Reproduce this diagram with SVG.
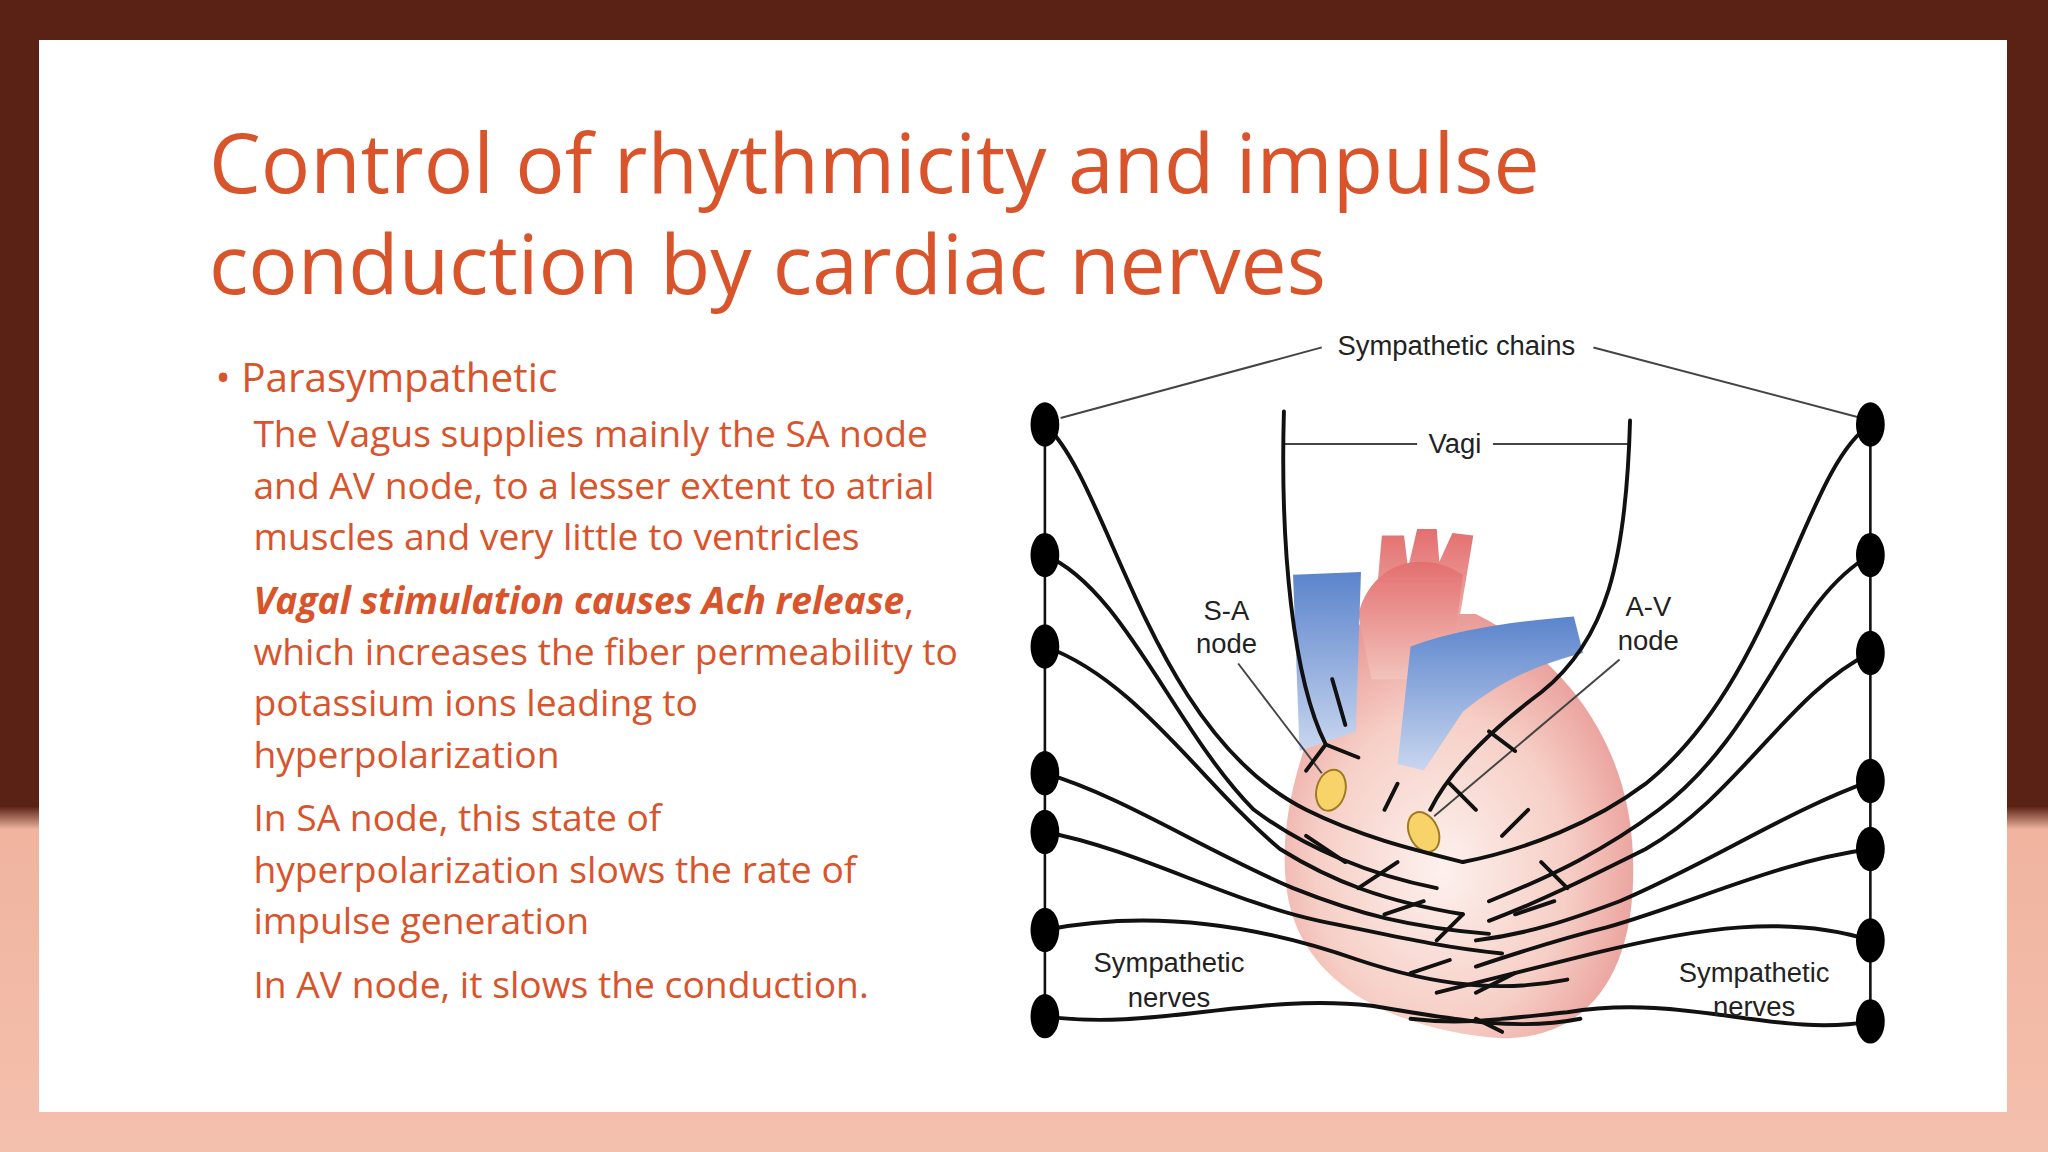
<svg xmlns="http://www.w3.org/2000/svg" width="2048" height="1152" viewBox="0 0 2048 1152">
<defs>
<linearGradient id="bg" x1="0" y1="0" x2="0" y2="1">
<stop offset="0" stop-color="#5a2214"/><stop offset="0.70" stop-color="#5a2214"/><stop offset="0.72" stop-color="#f0b49f"/><stop offset="1" stop-color="#f4c0ae"/></linearGradient>
<radialGradient id="hg" cx="0.45" cy="0.6" r="0.6"><stop offset="0" stop-color="#fdf1ee"/><stop offset="0.6" stop-color="#f6cfc6"/><stop offset="1" stop-color="#e99b97"/></radialGradient>
<linearGradient id="bl" x1="0" y1="0" x2="0" y2="1"><stop offset="0" stop-color="#5b84cc"/><stop offset="1" stop-color="#c9d6ef"/></linearGradient>
<linearGradient id="ao" x1="0" y1="0" x2="0" y2="1"><stop offset="0" stop-color="#e36f6f"/><stop offset="1" stop-color="#f3c3bc"/></linearGradient>
<style>
.t{font-family:"Open Sans","Liberation Sans",sans-serif;fill:#d9532b}
.l{font-family:"Liberation Sans",Arial,sans-serif;font-size:21px;fill:#222;text-anchor:middle}
.n{fill:none;stroke:#111;stroke-width:3;stroke-linecap:round}
.f{fill:none;stroke:#111;stroke-width:2}
.th{fill:none;stroke:#444;stroke-width:1.5}
</style>
</defs>
<rect width="2048" height="1152" fill="url(#bg)"/>
<rect x="39" y="40" width="1968" height="1072" fill="#fff"/>
<g transform="scale(1.30612)">
<g id="title" class="t" font-size="63">
<text x="160" y="148">Control of rhythmicity and impulse</text>
<text x="160" y="225">conduction by cardiac nerves</text>
</g>
<g id="body" class="t" font-size="28.5">
<text x="165" y="300" font-size="31">• Parasympathetic</text>
<text x="194" y="342">The Vagus supplies mainly the SA node</text>
<text x="194" y="382">and AV node, to a lesser extent to atrial</text>
<text x="194" y="421">muscles and very little to ventricles</text>
<text x="194" y="470"><tspan font-weight="bold" font-style="italic">Vagal stimulation causes Ach release</tspan>,</text>
<text x="194" y="509">which increases the fiber permeability to</text>
<text x="194" y="548">potassium ions leading to</text>
<text x="194" y="588">hyperpolarization</text>
<text x="194" y="636">In SA node, this state of</text>
<text x="194" y="676">hyperpolarization slows the rate of</text>
<text x="194" y="715">impulse generation</text>
<text x="194" y="764">In AV node, it slows the conduction.</text>
</g>
<g id="heart">
<path d="M1045 470 C1020 520 975 600 985 680 C995 760 1080 790 1150 795 C1220 795 1255 740 1250 650 C1245 560 1190 500 1130 470 Z" fill="url(#hg)"/>
<path d="M1058 410 L1075 410 L1078 435 L1085 405 L1100 405 L1102 430 L1112 408 L1128 410 L1118 470 L1050 500 Z" fill="url(#ao)"/>
<path d="M1040 470 C1050 430 1090 420 1120 440 L1110 520 L1050 520 Z" fill="url(#ao)"/>
<path d="M990 440 L1042 438 L1038 560 L995 575 Z" fill="url(#bl)"/>
<path d="M1080 495 C1120 480 1170 475 1205 472 L1212 500 C1180 508 1150 520 1120 545 L1090 590 L1070 585 Z" fill="url(#bl)"/>
<ellipse cx="1019" cy="605" rx="11" ry="16" fill="#f7d36a" stroke="#a07a20" stroke-width="1.5" transform="rotate(15 1019 605)"/>
<ellipse cx="1090" cy="637" rx="11" ry="16" fill="#f7d36a" stroke="#a07a20" stroke-width="1.5" transform="rotate(-25 1090 637)"/>
</g>
<g id="connectors">
<line class="f" x1="800" y1="325" x2="800" y2="780"/>
<line class="f" x1="1432" y1="325" x2="1432" y2="782"/>
<line class="th" x1="812" y1="320" x2="1012" y2="266"/>
<line class="th" x1="1220" y1="266" x2="1425" y2="320"/>
<line class="th" x1="983" y1="340" x2="1085" y2="340"/>
<line class="th" x1="1143" y1="340" x2="1248" y2="340"/>
<line class="th" x1="948" y1="508" x2="1012" y2="592"/>
<line class="th" x1="1240" y1="505" x2="1098" y2="625"/>
<path class="n" d="M983 315 C980 420 990 520 1015 570 M1248 322 C1245 430 1230 490 1180 530 C1140 560 1110 590 1095 620"/>
<path class="n" d="M1015 570 L1000 590 M1015 570 L1040 580 M1020 520 L1030 555 M1140 560 L1160 575"/>
<path class="n" d="M800 325 C850 370 880 560 1000 620 C1040 640 1080 650 1120 660"/>
<path class="n" d="M800 425 C860 450 900 560 960 620 C1000 650 1050 670 1100 680"/>
<path class="n" d="M800 495 C870 520 920 600 980 650 C1020 675 1060 690 1120 700"/>
<path class="n" d="M800 592 C860 610 920 650 990 680 C1040 700 1080 710 1140 715"/>
<path class="n" d="M800 637 C870 650 940 690 1010 705 C1060 715 1100 725 1150 730"/>
<path class="n" d="M800 712 C860 700 940 700 1040 735 C1100 755 1150 760 1200 750"/>
<path class="n" d="M800 778 C880 790 960 760 1050 770 C1110 780 1160 790 1210 780"/>
<path class="n" d="M1432 325 C1380 360 1360 520 1260 600 C1220 630 1170 650 1120 660"/>
<path class="n" d="M1432 425 C1370 460 1350 560 1270 620 C1230 650 1190 670 1140 690"/>
<path class="n" d="M1432 500 C1370 530 1330 610 1260 650 C1220 670 1180 690 1140 705"/>
<path class="n" d="M1432 598 C1370 620 1310 660 1240 690 C1200 705 1170 715 1130 720"/>
<path class="n" d="M1432 650 C1360 660 1300 690 1230 710 C1190 720 1160 730 1130 740"/>
<path class="n" d="M1432 720 C1370 700 1300 710 1220 730 C1180 740 1140 750 1100 760"/>
<path class="n" d="M1432 782 C1360 795 1290 760 1200 775 C1150 780 1120 785 1080 780"/>
<path class="n" stroke-width="2.5" d="M1000 640 L1030 660 M1040 680 L1070 660 M1060 700 L1090 690 M1100 720 L1120 700 M1080 745 L1110 735 M1130 760 L1160 745 M1160 700 L1190 690 M1180 660 L1200 680 M1150 640 L1170 620 M1110 600 L1130 620 M1060 620 L1070 600 M1130 780 L1150 790"/>
</g>
<g id="ganglia" fill="#000">
<ellipse cx="800" cy="325" rx="11" ry="17"/><ellipse cx="800" cy="425" rx="11" ry="17"/><ellipse cx="800" cy="495" rx="11" ry="17"/><ellipse cx="800" cy="592" rx="11" ry="17"/><ellipse cx="800" cy="637" rx="11" ry="17"/><ellipse cx="800" cy="712" rx="11" ry="17"/><ellipse cx="800" cy="778" rx="11" ry="17"/>
<ellipse cx="1432" cy="325" rx="11" ry="17"/><ellipse cx="1432" cy="425" rx="11" ry="17"/><ellipse cx="1432" cy="500" rx="11" ry="17"/><ellipse cx="1432" cy="598" rx="11" ry="17"/><ellipse cx="1432" cy="650" rx="11" ry="17"/><ellipse cx="1432" cy="720" rx="11" ry="17"/><ellipse cx="1432" cy="782" rx="11" ry="17"/>
</g>
<g id="labels">
<text class="l" x="1115" y="272">Sympathetic chains</text>
<text class="l" x="1114" y="347">Vagi</text>
<text class="l" x="939" y="475">S-A</text><text class="l" x="939" y="500">node</text>
<text class="l" x="1262" y="472">A-V</text><text class="l" x="1262" y="498">node</text>
<text class="l" x="895" y="744">Sympathetic</text><text class="l" x="895" y="771">nerves</text>
<text class="l" x="1343" y="752">Sympathetic</text><text class="l" x="1343" y="778">nerves</text>
</g>
</g>
</svg>
